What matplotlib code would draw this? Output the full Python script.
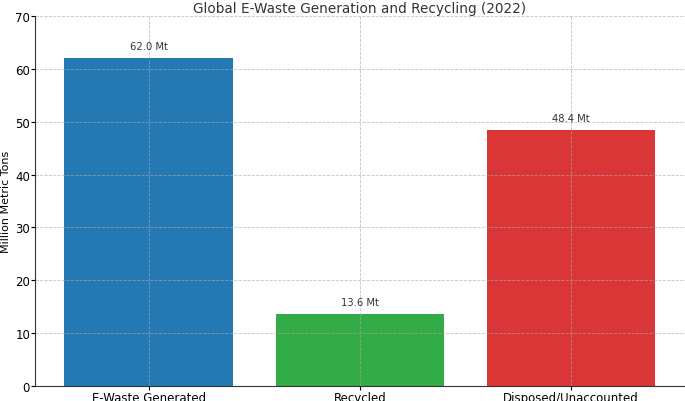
import matplotlib.pyplot as plt

# data
categories = ['E-Waste Generated', 'Recycled', 'Disposed/Unaccounted']
values = [62.0, 13.6, 48.4]
colors = ['#2478b4', '#33ab47', '#da3537']

fig = plt.figure(figsize=(6.85, 4.02), dpi=100)
ax = fig.add_axes([0.051, 0.037, 0.949, 0.921])

bars = ax.bar(categories, values, color=colors, width=0.8)

for b, v in zip(bars, values):
    ax.text(b.get_x() + b.get_width() / 2, v + 1.4, f'{v:.1f} Mt',
            ha='center', va='bottom', fontsize=7.2, color='#333333')

ax.set_ylim(0, 70)
ax.set_title('Global E-Waste Generation and Recycling (2022)', fontsize=9.8, color='#333333', pad=3)
ax.set_ylabel('Million Metric Tons', fontsize=8, labelpad=3)
ax.tick_params(labelsize=8.5, length=3, pad=0.5)

ax.set_axisbelow(False)
ax.grid(True, linestyle='--', linewidth=0.6, color='#aaaaaa', alpha=0.7)

for s in ['top', 'right']:
    ax.spines[s].set_visible(False)
for s in ['left', 'bottom']:
    ax.spines[s].set_color('#333333')

plt.savefig('out.png', dpi=100)
